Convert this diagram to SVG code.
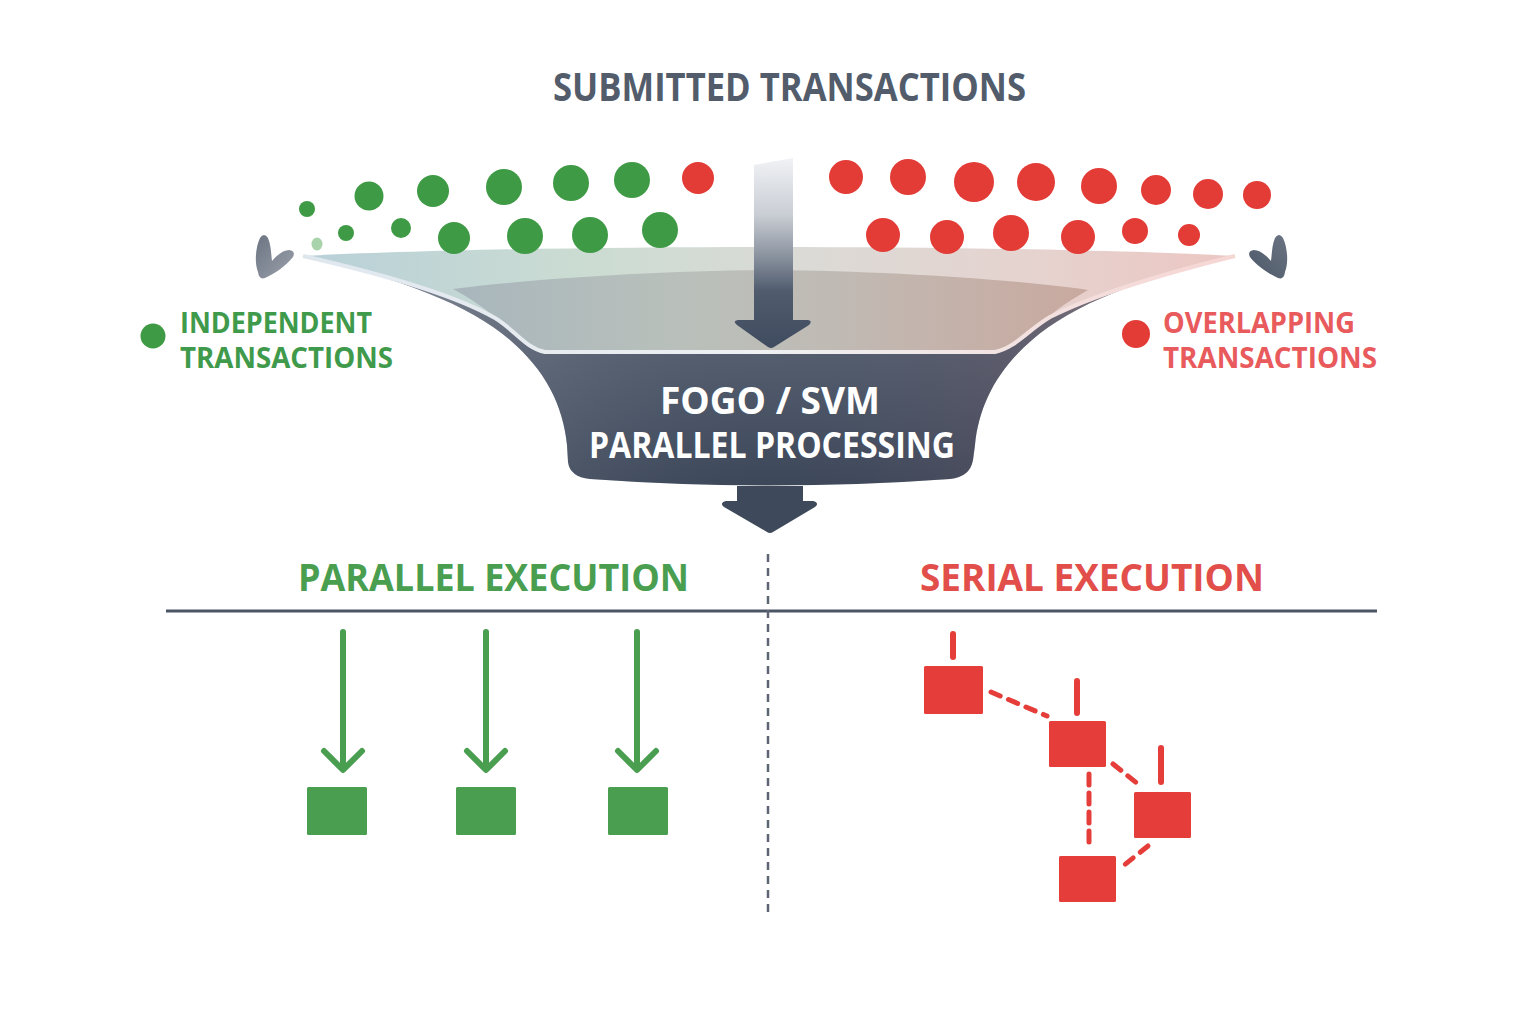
<svg xmlns="http://www.w3.org/2000/svg" width="1536" height="1024" viewBox="0 0 1536 1024">
<defs>
<style>
.t{font-family:"Open Sans","Noto Sans","Liberation Sans",sans-serif;font-weight:700}
.g{fill:#3f9a45}
.r{fill:#e33b36}
.gs{fill:#4a9e50}
.rs{fill:#e53e3a}
.ga{stroke:#4a9e50;stroke-width:6;stroke-linecap:round;stroke-linejoin:round;fill:none}
.rt{stroke:#e53e3a;stroke-width:6;stroke-linecap:round;fill:none}
.rd{stroke:#e53e3a;stroke-width:5;stroke-linecap:round;fill:none;stroke-dasharray:10 9}
</style>
<linearGradient id="bodyV" x1="0" y1="250" x2="0" y2="490" gradientUnits="userSpaceOnUse">
<stop offset="0" stop-color="#6a7280"/>
<stop offset="0.45" stop-color="#535d6e"/>
<stop offset="1" stop-color="#3b4658"/>
</linearGradient>
<linearGradient id="bodyH" x1="303" y1="0" x2="1235" y2="0" gradientUnits="userSpaceOnUse">
<stop offset="0" stop-color="#a3a9b3" stop-opacity="0.8"/>
<stop offset="0.25" stop-color="#7a8290" stop-opacity="0.3"/>
<stop offset="0.5" stop-color="#4b5567" stop-opacity="0"/>
<stop offset="0.75" stop-color="#6a5766" stop-opacity="0.35"/>
<stop offset="1" stop-color="#b39497" stop-opacity="0.85"/>
</linearGradient>
<linearGradient id="topL" x1="303" y1="0" x2="1235" y2="0" gradientUnits="userSpaceOnUse">
<stop offset="0" stop-color="#b8d0d8"/>
<stop offset="0.3" stop-color="#cbdcd2"/>
<stop offset="0.55" stop-color="#dcdad6"/>
<stop offset="0.8" stop-color="#e6d2ce"/>
<stop offset="1" stop-color="#ecc6c2"/>
</linearGradient>
<linearGradient id="topG" x1="453" y1="0" x2="1088" y2="0" gradientUnits="userSpaceOnUse">
<stop offset="0" stop-color="#a8b6bc"/>
<stop offset="0.35" stop-color="#b9c0bb"/>
<stop offset="0.6" stop-color="#c0bab4"/>
<stop offset="1" stop-color="#c9a99f"/>
</linearGradient>
<linearGradient id="rim" x1="303" y1="0" x2="1235" y2="0" gradientUnits="userSpaceOnUse">
<stop offset="0" stop-color="#dfe7ee"/>
<stop offset="0.5" stop-color="#eef0f2"/>
<stop offset="1" stop-color="#f6d6d3"/>
</linearGradient>
<linearGradient id="inArrow" x1="0" y1="158" x2="0" y2="348" gradientUnits="userSpaceOnUse">
<stop offset="0" stop-color="#f0f2f5"/>
<stop offset="0.3" stop-color="#c9cdd4"/>
<stop offset="0.5" stop-color="#8f97a3"/>
<stop offset="0.7" stop-color="#505c6e"/>
<stop offset="1" stop-color="#3f4b5e"/>
</linearGradient>
<linearGradient id="sideL" x1="0" y1="0" x2="1" y2="1">
<stop offset="0" stop-color="#6c7483"/>
<stop offset="1" stop-color="#9ba1ab"/>
</linearGradient>
<linearGradient id="sideR" x1="0" y1="0" x2="1" y2="1">
<stop offset="0" stop-color="#6a7483"/>
<stop offset="1" stop-color="#4d5868"/>
</linearGradient>
</defs>

<rect width="1536" height="1024" fill="#ffffff"/>

<g id="title">
<text class="t" x="553" y="101" font-size="40" fill="#525c6b" textLength="473" lengthAdjust="spacingAndGlyphs">SUBMITTED TRANSACTIONS</text>
</g>

<g id="funnel">
<path d="M303,256 C400,278 470,305 510,340 C545,370 563,405 567,445 L568,462 Q570,477 590,479 Q770,492 950,479 Q970,477 973,460 L975,445 C979,405 997,370 1032,340 C1072,305 1140,278 1235,256 Z" fill="url(#bodyV)"/>
<path d="M303,256 C400,278 470,305 510,340 C545,370 563,405 567,445 L568,462 Q570,477 590,479 Q770,492 950,479 Q970,477 973,460 L975,445 C979,405 997,370 1032,340 C1072,305 1140,278 1235,256 Z" fill="url(#bodyH)"/>
<path d="M303,256 C420,250 600,247 770,247 C940,247 1120,250 1235,256 C1150,277 1090,297 1050,317 C1028,330 1015,348 995,351 L545,351 C525,348 515,330 495,318 C460,298 400,278 303,256 Z" fill="url(#topL)"/>
<path d="M453,289 C520,280 650,271 770,270 C890,271 1020,280 1088,290 C1068,302 1058,308 1045,320 C1030,334 1015,349 995,350 L545,350 C525,349 515,334 500,322 C485,308 470,298 453,289 Z" fill="url(#topG)"/>
<path d="M303,256 C400,278 460,298 495,318 C515,330 525,348 545,352 L995,352 C1015,348 1028,330 1050,317 C1090,297 1150,277 1235,256" fill="none" stroke="url(#rim)" stroke-width="4" stroke-linejoin="round"/>
</g>

<g id="fogo-svm">
<text class="t" x="660" y="414" font-size="37" fill="#ffffff" textLength="220" lengthAdjust="spacingAndGlyphs">FOGO / SVM</text>
<text class="t" x="589" y="458" font-size="36" fill="#ffffff" textLength="366" lengthAdjust="spacingAndGlyphs">PARALLEL PROCESSING</text>
</g>

<g id="arrows-funnel">
<path d="M754,165 L793,158 L793,320 L808,320 Q813,321 809,325 L774,347 Q771,349 768,347 L737,325 Q732,321 738,320 L754,320 Z" fill="url(#inArrow)"/>
<path d="M737,486 L737,501 L726,501 Q719,503 724,507 L767,532 Q770,534 773,532 L815,507 Q820,503 813,501 L803,501 L803,486 Z" fill="#3e4a5b"/>
<path d="M258,272 C254,262 256,246 260,238 Q264,232 268,238 C271,245 271,253 272,261 C278,254 284,250 289,250 Q296,251 293,257 C286,266 274,274 265,278 Q259,280 258,272 Z" fill="url(#sideL)"/>
<path transform="translate(1543,0) scale(-1,1)" d="M258,272 C254,262 256,246 260,238 Q264,232 268,238 C271,245 271,253 272,261 C278,254 284,250 289,250 Q296,251 293,257 C286,266 274,274 265,278 Q259,280 258,272 Z" fill="url(#sideR)"/>
</g>

<g id="transactions">
<circle class="g" cx="307" cy="209" r="8"/>
<circle class="g" cx="369" cy="196" r="14.5"/>
<circle class="g" cx="433" cy="191" r="16"/>
<circle class="g" cx="504" cy="187" r="18"/>
<circle class="g" cx="571" cy="183" r="18"/>
<circle class="g" cx="632" cy="180" r="18"/>
<circle class="r" cx="698" cy="178" r="16"/>
<ellipse cx="317" cy="244" rx="5.5" ry="6.5" fill="#a9d3aa"/>
<circle class="g" cx="346" cy="233" r="8"/>
<circle class="g" cx="401" cy="228" r="10"/>
<circle class="g" cx="454" cy="238" r="16"/>
<circle class="g" cx="525" cy="236" r="18"/>
<circle class="g" cx="590" cy="235" r="18"/>
<circle class="g" cx="660" cy="230" r="18"/>
<circle class="r" cx="846" cy="177" r="17"/>
<circle class="r" cx="908" cy="177" r="18"/>
<circle class="r" cx="974" cy="182" r="20"/>
<circle class="r" cx="1036" cy="182" r="19"/>
<circle class="r" cx="1099" cy="186" r="18"/>
<circle class="r" cx="1156" cy="190" r="15"/>
<circle class="r" cx="1208" cy="194" r="15"/>
<circle class="r" cx="1257" cy="195" r="14"/>
<circle class="r" cx="883" cy="235" r="17"/>
<circle class="r" cx="947" cy="237" r="17"/>
<circle class="r" cx="1011" cy="233" r="18"/>
<circle class="r" cx="1078" cy="237" r="17"/>
<circle class="r" cx="1135" cy="231" r="13"/>
<circle class="r" cx="1189" cy="235" r="11"/>
</g>

<g id="legend-independent">
<circle class="g" cx="153" cy="336" r="12.5"/>
<text class="t" x="180" y="333" font-size="28" fill="#3f9a4c" textLength="192" lengthAdjust="spacingAndGlyphs">INDEPENDENT</text>
<text class="t" x="180" y="368" font-size="28" fill="#3f9a4c" textLength="213" lengthAdjust="spacingAndGlyphs">TRANSACTIONS</text>
</g>

<g id="legend-overlapping">
<circle class="r" cx="1136" cy="334" r="14"/>
<text class="t" x="1163" y="333" font-size="28" fill="#e85a5c" textLength="192" lengthAdjust="spacingAndGlyphs">OVERLAPPING</text>
<text class="t" x="1163" y="368" font-size="28" fill="#e85a5c" textLength="214" lengthAdjust="spacingAndGlyphs">TRANSACTIONS</text>
</g>

<g id="divider">
<line x1="166" y1="611" x2="1377" y2="611" stroke="#4a5566" stroke-width="3"/>
<line x1="768" y1="554" x2="768" y2="912" stroke="#5d6575" stroke-width="2.5" stroke-dasharray="8 6"/>
</g>

<g id="parallel-execution">
<text class="t" x="298" y="591" font-size="37" fill="#4a9e50" textLength="391" lengthAdjust="spacingAndGlyphs">PARALLEL EXECUTION</text>
<path class="ga" d="M343,632 L343,769 M324,751 L343,770 L362,751"/>
<path class="ga" d="M486,632 L486,769 M467,751 L486,770 L505,751"/>
<path class="ga" d="M637,632 L637,769 M618,751 L637,770 L656,751"/>
<rect class="gs" x="307" y="787" width="60" height="48" rx="1.5"/>
<rect class="gs" x="456" y="787" width="60" height="48" rx="1.5"/>
<rect class="gs" x="608" y="787" width="60" height="48" rx="1.5"/>
</g>

<g id="serial-execution">
<text class="t" x="920" y="591" font-size="37" fill="#e24e4a" textLength="344" lengthAdjust="spacingAndGlyphs">SERIAL EXECUTION</text>
<line class="rt" x1="953" y1="634" x2="953" y2="657"/>
<line class="rt" x1="1077" y1="681" x2="1077" y2="713"/>
<line class="rt" x1="1161" y1="748" x2="1161" y2="782"/>
<line class="rd" x1="991" y1="692" x2="1047" y2="716"/>
<line class="rd" x1="1113" y1="764" x2="1138" y2="784"/>
<line class="rd" x1="1089" y1="774" x2="1089" y2="845" style="stroke-dasharray:11 8"/>
<line class="rd" x1="1148" y1="846" x2="1123" y2="866"/>
<rect class="rs" x="924" y="666" width="59" height="48" rx="1.5"/>
<rect class="rs" x="1049" y="721" width="57" height="46" rx="1.5"/>
<rect class="rs" x="1134" y="792" width="57" height="46" rx="1.5"/>
<rect class="rs" x="1059" y="856" width="57" height="46" rx="1.5"/>
</g>
</svg>
